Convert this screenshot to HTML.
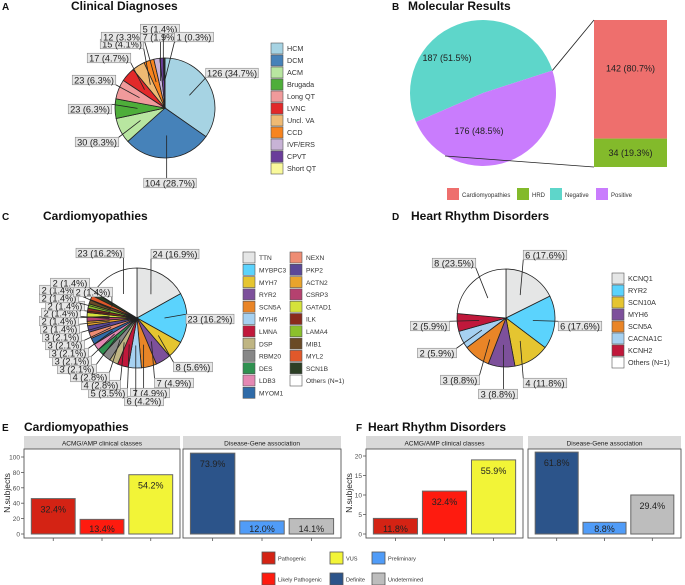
<!DOCTYPE html>
<html><head><meta charset="utf-8"><style>
body{margin:0;background:#fff}
svg{display:block;font-family:"Liberation Sans",sans-serif}
</style></head><body>
<svg id="fig" width="685" height="585" viewBox="0 0 685 585" xmlns="http://www.w3.org/2000/svg">
<g font-weight="bold" font-size="12" fill="#111">
<text x="2" y="10" font-size="10">A</text>
<text x="71" y="10">Clinical Diagnoses</text>
<text x="392" y="10" font-size="10">B</text>
<text x="408" y="10">Molecular Results</text>
<text x="2" y="220" font-size="10">C</text>
<text x="43" y="220">Cardiomyopathies</text>
<text x="392" y="220" font-size="10">D</text>
<text x="411" y="220">Heart Rhythm Disorders</text>
<text x="2" y="431" font-size="10">E</text>
<text x="24" y="431">Cardiomyopathies</text>
<text x="356" y="431" font-size="10">F</text>
<text x="368" y="431">Heart Rhythm Disorders</text>
</g>
</svg>
<script>
// ---- Panel A data
const aCats=["HCM","DCM","ACM","Brugada","Long QT","LVNC","Uncl. VA","CCD","IVF/ERS","CPVT","Short QT"];
const aVals=[126,104,30,23,23,17,15,12,7,5,1];
const aColors=["#A6D3E3","#4682B9","#B8E6A0","#4EAE3A","#F09A9B","#E2292A","#EFBA73","#F7841F","#C8B3D6","#6A3D9A","#F9F99B"];
const aLabelPos=[[232,73],[170,183],[97,142],[90,109],[94,80],[109,58],[122,44],[123,37],[160,37],[160,29],[194,37]];
// ---- Panel B data
const bCats=["Negative","Positive"];
const bVals=[187,176];
const bSubCats=["Cardiomyopathies","HRD"];
const bSubVals=[142,34];
// ---- Panel C data
const cCats=["TTN","MYBPC3","MYH7","RYR2","SCN5A","MYH6","LMNA","DSP","RBM20","DES","LDB3","MYOM1","NEXN","PKP2","ACTN2","CSRP3","GATAD1","ILK","LAMA4","MIB1","MYL2","SCN1B","Others (N=1)"];
const cVals=[24,23,8,7,7,6,5,4,4,3,3,3,3,3,2,2,2,2,2,2,2,2,23];
const cColors=["#E5E6E6","#5BD3FD","#E5C530","#7D509B","#E98527","#A6D1F1","#C0183B","#BFB583","#878787","#2F9150","#E488B3","#2F6BA8","#EE8D74","#5B4897","#E9A42C","#B5416F","#D5E23A","#8A2B1D","#8BC02C","#6A4A25","#E0582A","#2C3F25","#FFFFFF"];
const cLabelPos=[[175,254],[210,319],[193,367],[174,383],[150,393],[144,401],[108,393],[101,385],[90,377],[77,369],[72,361],[69,353],[65,345],[62,337],[60,329],[59,321],[61,313],[65,306],[59,298],[59,290],[93,292],[70,283],[100,253]];
// ---- Panel D data
const dCats=["KCNQ1","RYR2","SCN10A","MYH6","SCN5A","CACNA1C","KCNH2","Others (N=1)"];
const dVals=[6,6,4,3,3,2,2,8];
const dColors=["#E5E6E6","#5BD3FD","#E5C530","#7D509B","#E98527","#A6D1F1","#C0183B","#FFFFFF"];
const dLabelPos=[[545,255],[580,326],[545,383],[498,394],[460,380],[437,353],[430,326],[454,263]];
// ---- Panel E/F data
const classCats=["Pathogenic","Likely Pathogenic","VUS"];
const assocCats=["Definite","Preliminary","Undetermined"];
const eClassVals=[46,19,77];
const eClassPct=["32.4%","13.4%","54.2%"];
const eAssocVals=[105,17,20];
const eAssocPct=["73.9%","12.0%","14.1%"];
const fClassVals=[4,11,19];
const fClassPct=["11.8%","32.4%","55.9%"];
const fAssocVals=[21,3,10];
const fAssocPct=["61.8%","8.8%","29.4%"];
const eTicks=[0,20,40,60,80,100];
const fTicks=[0,5,10,15,20];
const barColors={"Pathogenic":"#D42314","Likely Pathogenic":"#FE1B0F","VUS":"#F2F437","Definite":"#2C548A","Preliminary":"#509CF8","Undetermined":"#BDBDBD"};

const svg=document.getElementById('fig');
const NS="http://www.w3.org/2000/svg";
function mk(tag,attrs,parent){const e=document.createElementNS(NS,tag);for(const k in attrs)e.setAttribute(k,attrs[k]);(parent||svg).appendChild(e);return e;}
function txt(x,y,s,attrs,parent){const e=mk('text',Object.assign({x:x,y:y},attrs||{}),parent);e.textContent=s;return e;}
function pt(cx,cy,r,a){return [cx+r*Math.sin(a),cy-r*Math.cos(a)];}
function arcPath(cx,cy,r,a0,a1){
  const p0=pt(cx,cy,r,a0),p1=pt(cx,cy,r,a1);const large=(a1-a0)>Math.PI?1:0;
  if(a1-a0>=2*Math.PI-1e-6)return `M${cx-r},${cy}A${r},${r} 0 1 1 ${cx+r},${cy}A${r},${r} 0 1 1 ${cx-r},${cy}Z`;
  return `M${cx},${cy}L${p0[0]},${p0[1]}A${r},${r} 0 ${large} 1 ${p1[0]},${p1[1]}Z`;
}
function pie(prefix,cx,cy,r,cats,vals,colors,labelPos){
  const g=mk('g',{});
  
  
  const tot=vals.reduce((a,b)=>a+b,0);let a=0;const mids=[];
  vals.forEach((v,i)=>{const a1=a+v/tot*2*Math.PI;
    const p=mk('path',{d:arcPath(cx,cy,r,a,a1),fill:colors[i],stroke:'#222','stroke-width':0.8},g);
    
    
    mids.push((a+a1)/2);a=a1;});
  const lg=mk('g',{});
  vals.forEach((v,i)=>{
    const s=v+' ('+(v/tot*100).toFixed(1)+'%)';
    const [lx,ly]=labelPos[i];const w=s.length*4.5+3,h=9.5;
    const ip=pt(cx,cy,r*0.55,mids[i]);
    const ax=Math.max(lx-w/2,Math.min(lx+w/2,ip[0])),ay=ip[1]<ly?ly-h/2:ly+h/2;
    mk('line',{x1:ax,y1:ay,x2:ip[0],y2:ip[1],stroke:'#222','stroke-width':0.8},lg);
    mk('rect',{x:lx-w/2,y:ly-h/2,width:w,height:h,fill:'#e6e6e6',stroke:'#888','stroke-width':0.6},lg);
    const t=txt(lx,ly+3.3,s,{'font-size':9.2,'text-anchor':'middle',fill:'#222'},lg);
    
    
  });
}
function legendCol(prefix,x,y,step,cats,colors,fs){
  cats.forEach((c,i)=>{
    const r=mk('rect',{x:x,y:y+i*step,width:12,height:11,fill:colors[i],stroke:'#555','stroke-width':0.6});
    
    
    const t=txt(x+16,y+i*step+8.2,c,{'font-size':fs||7.2,fill:'#333'});
    
    
  });
}
// Panel A
pie('diagnoses',165,108,50,aCats,aVals,aColors,aLabelPos);
legendCol('diagnoses',271,43,12,aCats,aColors);
// Panel C
pie('cardio-genes',137,318,50,cCats,cVals,cColors,cLabelPos);
legendCol('cardio-genes',243,252,12.3,cCats.slice(0,12),cColors.slice(0,12),6.6);
legendCol('cardio-genes',290,252,12.3,cCats.slice(12),cColors.slice(12),6.6);
// Panel D
pie('hrd-genes',506,318,49,dCats,dVals,dColors,dLabelPos);
legendCol('hrd-genes',612,273,12,dCats,dColors);

// Panel B
(function(){
  const cx=483,cy=93,r=73,tot=bVals[0]+bVals[1];
  const start=-18*Math.PI/180+Math.PI/2;
  const posEnd=start+bVals[1]/tot*2*Math.PI;
  const p1=mk('path',{d:arcPath(cx,cy,r,posEnd,start+2*Math.PI),fill:'#5ED6CA'});
  
  
  const p2=mk('path',{d:arcPath(cx,cy,r,start,posEnd),fill:'#C97CFD'});
  
  
  const t1=txt(447,61,bVals[0]+' ('+(bVals[0]/tot*100).toFixed(1)+'%)',{'font-size':9,'text-anchor':'middle',fill:'#222'});
  
  
  const t2=txt(479,134,bVals[1]+' ('+(bVals[1]/tot*100).toFixed(1)+'%)',{'font-size':9,'text-anchor':'middle',fill:'#222'});
  
  
  const bx=594,bw=73,top=20,bot=167,st=bSubVals[0]+bSubVals[1];
  const ys=v=>(bot-top)*v/st;
  const split=top+ys(bSubVals[0]);
  const r1=mk('rect',{x:bx,y:top,width:bw,height:split-top,fill:'#EE6F6D'});
  
  
  const r2=mk('rect',{x:bx,y:split,width:bw,height:bot-split,fill:'#83BA2B'});
  
  
  const t3=txt(bx+bw/2,(top+split)/2-8,bSubVals[0]+' ('+(bSubVals[0]/st*100).toFixed(1)+'%)',{'font-size':9,'text-anchor':'middle',fill:'#222'});
  
  
  const t4=txt(bx+bw/2,(split+bot)/2+3,bSubVals[1]+' ('+(bSubVals[1]/st*100).toFixed(1)+'%)',{'font-size':9,'text-anchor':'middle',fill:'#222'});
  
  
  const e0=pt(cx,cy,r,start);
  const l1=mk('line',{x1:e0[0],y1:e0[1],x2:bx,y2:top,stroke:'#222','stroke-width':0.8});
  
  
  const l2=mk('line',{x1:445,y1:156,x2:bx,y2:bot,stroke:'#222','stroke-width':0.8});
  
  
  const lk=[["Cardiomyopathies","#EE6F6D",447],["HRD","#83BA2B",517],["Negative","#5ED6CA",550],["Positive","#C97CFD",596]];
  lk.forEach(k=>{
    const r=mk('rect',{x:k[2],y:188,width:12,height:12,fill:k[1]});
    
    
    const t=txt(k[2]+15,197,k[0],{'font-size':6,fill:'#333'});
    
    
  });
})();

function facet(prefix,x0,x1,strip,cats,vals,pcts,yfn){
  const s=mk('rect',{x:x0,y:436,width:x1-x0,height:13,fill:'#D9D9D9'});
  
  
  const st=txt((x0+x1)/2,445.5,strip,{'font-size':6.5,'text-anchor':'middle',fill:'#1a1a1a'});
  
  
  const fr=mk('rect',{x:x0,y:449,width:x1-x0,height:89,fill:'none',stroke:'#555','stroke-width':0.9});
  
  
  const unit=(x1-x0)/3.2;
  vals.forEach((v,i)=>{
    const c=x0+(0.6+i)*unit,w=unit*0.9,top=yfn(v),base=yfn(0);
    const b=mk('rect',{x:c-w/2,y:top,width:w,height:base-top,fill:barColors[cats[i]],stroke:'#666','stroke-width':1});
    
    
    const t=txt(c,Math.min(top+14,532),pcts[i],{'font-size':9,'text-anchor':'middle',fill:'#222'});
    
    
    mk('line',{x1:c,y1:538,x2:c,y2:541,stroke:'#555','stroke-width':0.8});
  });
}
function yaxis(prefix,x0,ticks,yfn,labx){
  ticks.forEach(t=>{
    const y=yfn(t);
    mk('line',{x1:x0-3,y1:y,x2:x0,y2:y,stroke:'#555','stroke-width':0.8});
    const l=txt(x0-4,y+2.5,String(t),{'font-size':6.5,'text-anchor':'end',fill:'#4d4d4d'});
    
    
  });
  const yt=txt(0,0,'N.subjects',{'font-size':8.5,'text-anchor':'middle',fill:'#222',transform:`translate(${labx},493) rotate(-90)`});
  
  
}
const yE=v=>534-v*0.77;
const yF=v=>534-v*3.9;
facet('cardio-class',24,180,'ACMG/AMP clinical classes',classCats,eClassVals,eClassPct,yE);
facet('cardio-assoc',183,341,'Disease-Gene association',assocCats,eAssocVals,eAssocPct,yE);
yaxis('cardio',24,eTicks,yE,10);
facet('hrd-class',366,523,'ACMG/AMP clinical classes',classCats,fClassVals,fClassPct,yF);
facet('hrd-assoc',528,681,'Disease-Gene association',assocCats,fAssocVals,fAssocPct,yF);
yaxis('hrd',366,fTicks,yF,352);
const legItems=[["Pathogenic",262,552],["Likely Pathogenic",262,573],["VUS",330,552],["Definite",330,573],["Preliminary",372,552],["Undetermined",372,573]];
legItems.forEach(k=>{
  const r=mk('rect',{x:k[1],y:k[2],width:13,height:12,fill:barColors[k[0]],stroke:'#555','stroke-width':0.8});
  
  
  const t=txt(k[1]+16,k[2]+8.5,k[0],{'font-size':5.6,fill:'#333'});
  
  
});
</script>
</body></html>
